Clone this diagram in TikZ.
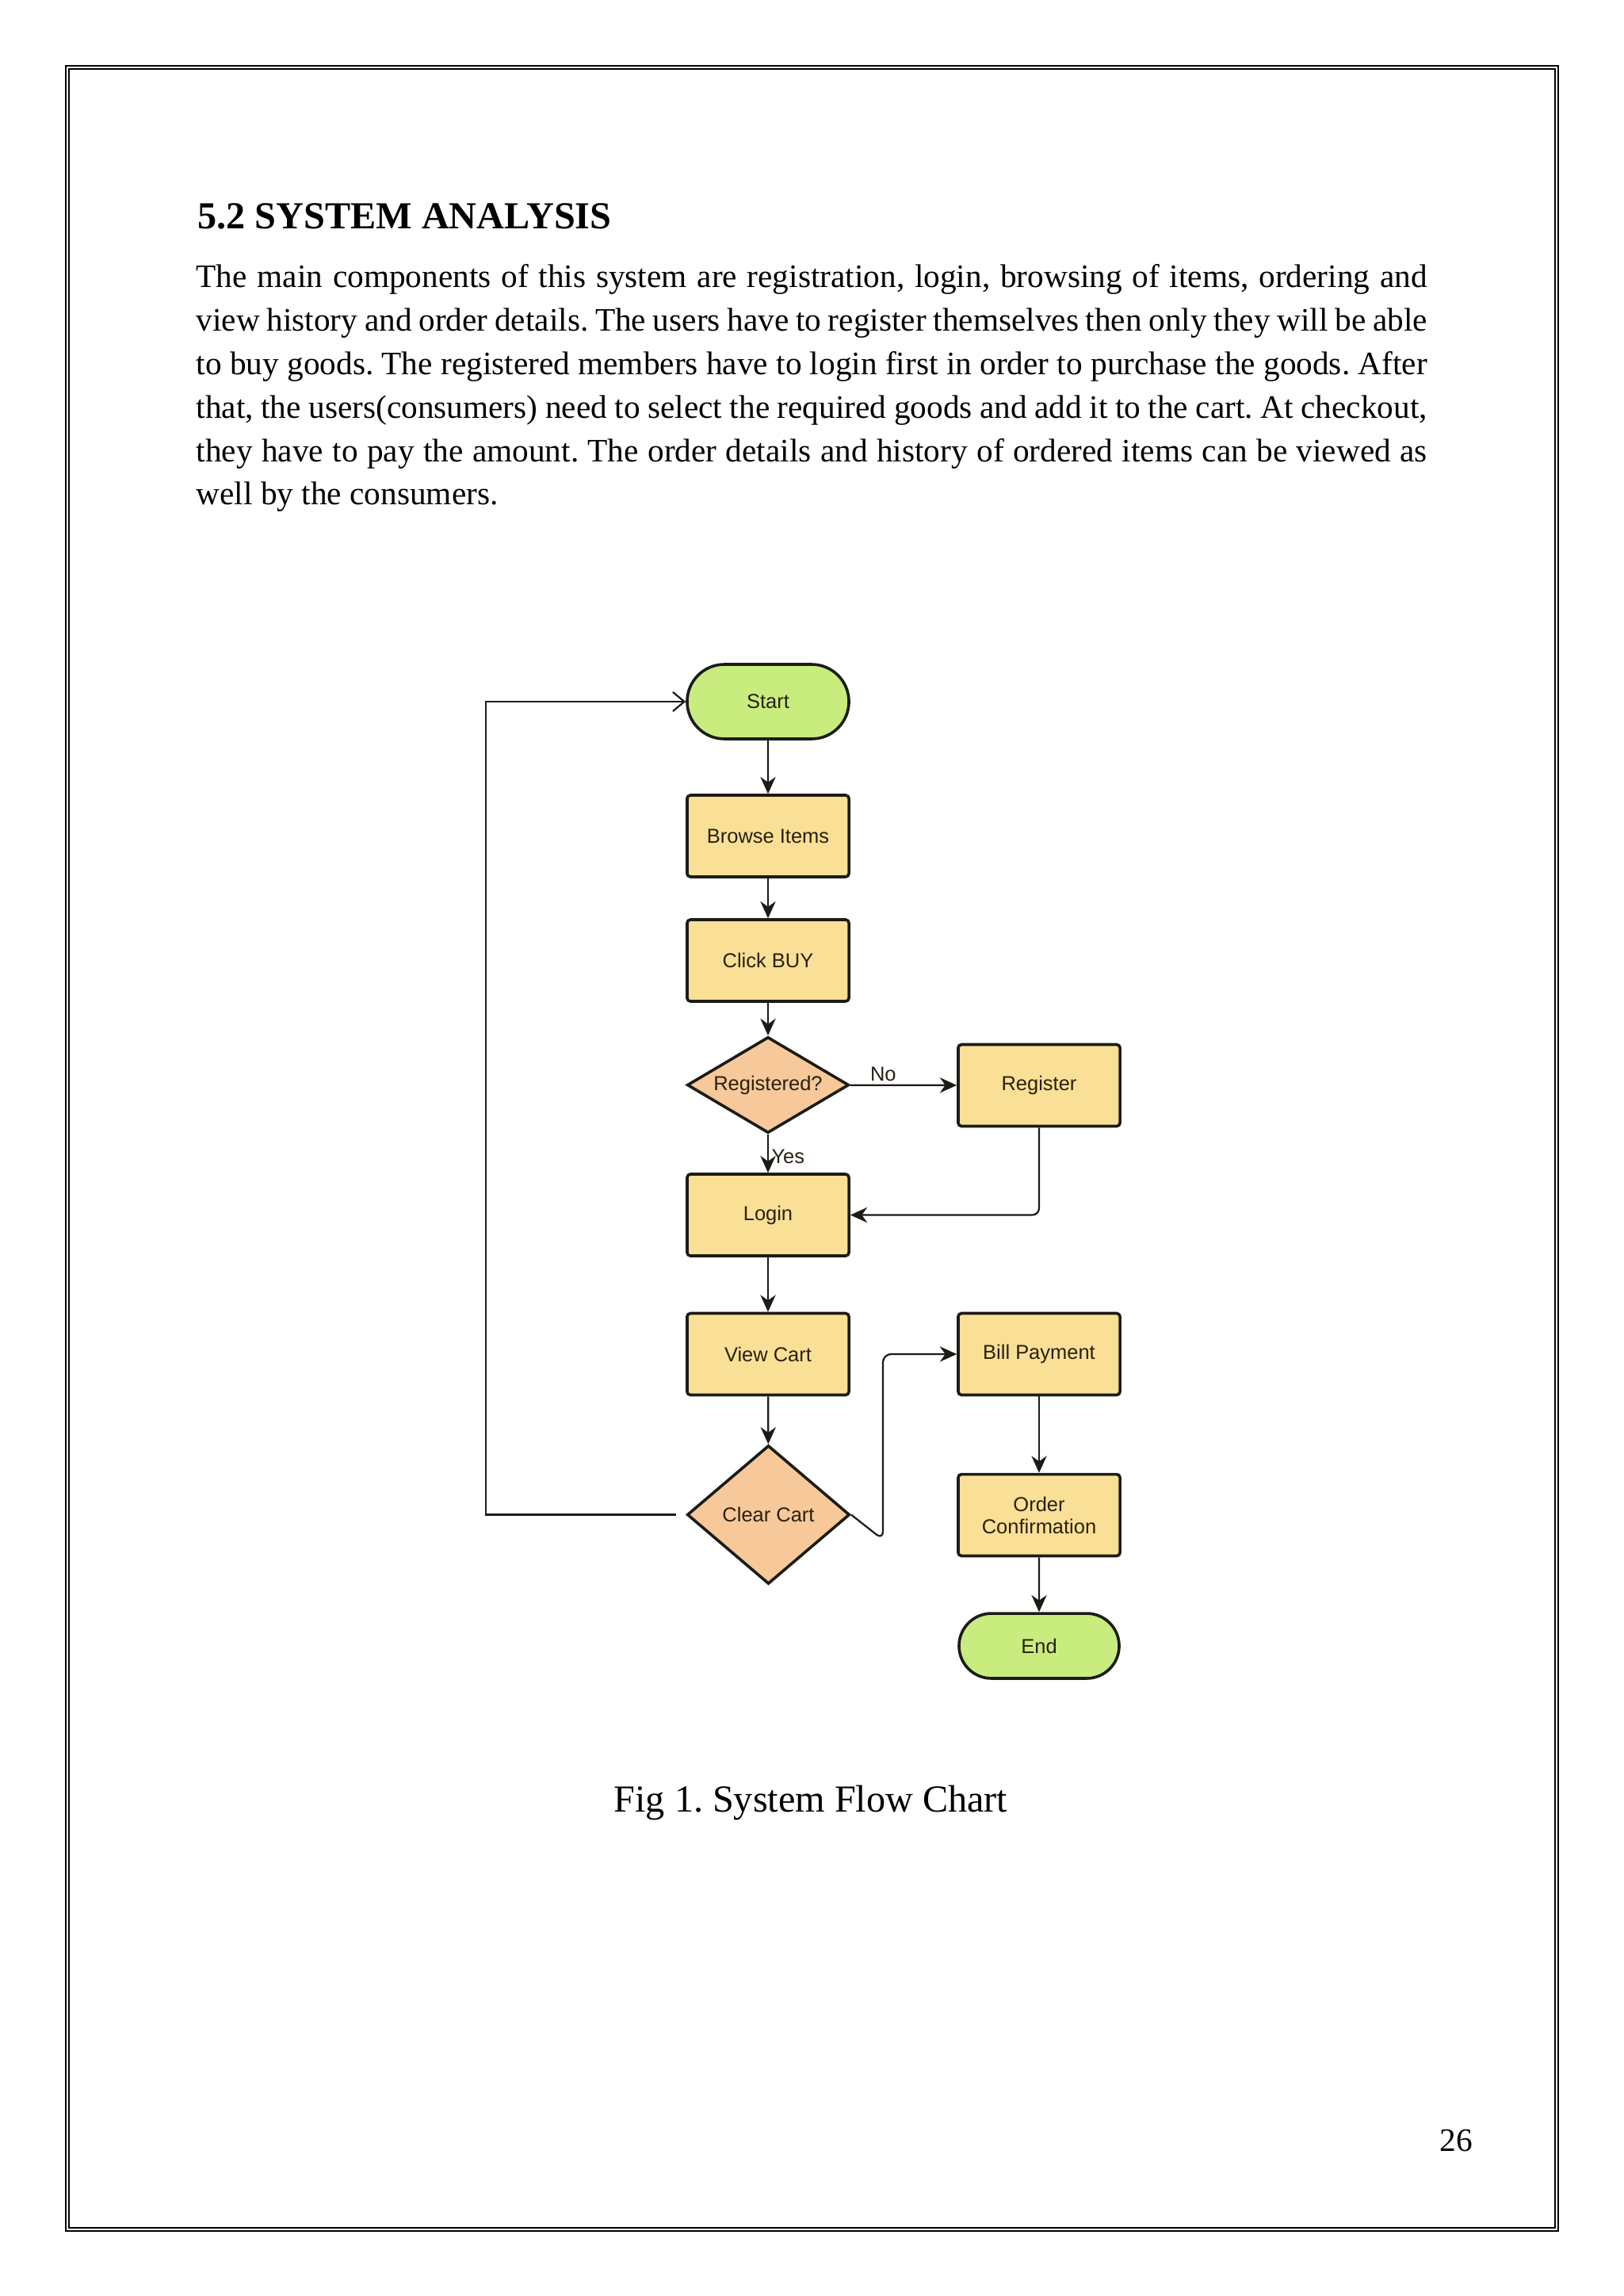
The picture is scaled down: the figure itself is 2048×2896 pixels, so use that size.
\documentclass[tikz,border=0pt]{standalone}
\usepackage{fontspec}
\setmainfont{Liberation Serif}
\setsansfont{Liberation Sans}
\usetikzlibrary{shapes.geometric,shapes.misc,arrows.meta}

\definecolor{boxfill}{RGB}{250,223,150}
\definecolor{diafill}{RGB}{247,200,153}
\definecolor{termfill}{RGB}{201,236,126}
\definecolor{edgeline}{RGB}{28,28,22}
\definecolor{chartink}{RGB}{40,33,15}

\newcommand{\chartfont}{\sffamily\fontsize{7.4pt}{8.2pt}\selectfont}
\frenchspacing

\tikzset{
  procbox/.style={rectangle, rounded corners=1.2pt, draw=edgeline, line width=1.05pt,
    fill=boxfill, text=chartink, font=\chartfont, align=center,
    minimum width=59.3pt, minimum height=29.9pt, inner sep=0pt},
  termbox/.style={rounded rectangle, draw=edgeline, line width=1.05pt,
    fill=termfill, text=chartink, font=\chartfont, minimum width=59.3pt, inner sep=0pt},
  decbox/.style={diamond, draw=edgeline, line width=1.05pt, fill=diafill,
    text=chartink, font=\chartfont, inner sep=0pt, shape aspect=1.7},
  flow/.style={draw=edgeline, line width=0.65pt, -{Stealth[length=6.2pt,width=5.6pt,inset=2pt]}},
  backflow/.style={draw=edgeline, line width=0.65pt, -{Straight Barb[length=4.2pt,width=7pt]}},
  edgelabel/.style={text=chartink, font=\chartfont, inner sep=1pt}
}

\begin{document}
\begin{tikzpicture}[x=0.29053pt, y=-0.29053pt]
  \fill[white] (0,0) rectangle (2048,2896);
  \useasboundingbox (0,0) rectangle (2048,2896);
  \draw[line width=0.6pt] (83,83) rectangle (1966,2814);
  \draw[line width=0.6pt] (87,87) rectangle (1962,2810);

  \node[anchor=base west, inner sep=0pt, font=\fontsize{14pt}{16pt}\selectfont\bfseries] (title) at (249,289) {5.2 SYSTEM ANALYSIS};
  \node[anchor=base west, inner sep=0pt, text width=451.2pt, align=justify,
    font=\fontsize{12pt}{15.92pt}\selectfont] (para) at (247,363)
    {The main components of this system are registration, login, browsing of items, ordering and\linebreak
     view history and order details. The users have to register themselves then only they will be able\linebreak
     to buy goods. The registered members have to login first in order to purchase the goods. After\linebreak
     that, the users(consumers) need to select the required goods and add it to the cart. At checkout,\linebreak
     they have to pay the amount. The order details and history of ordered items can be viewed as\linebreak
     well by the consumers.};

  \node[termbox, minimum height=27.3pt] (start) at (969,885) {Start};
  \node[procbox] (browse) at (969,1054.5) {Browse Items};
  \node[procbox] (buy) at (969,1211.5) {Click BUY};
  \node[decbox, minimum width=59.3pt, minimum height=35.2pt] (regd) at (969,1368.5) {Registered?};
  \node[procbox] (register) at (1311,1369) {Register};
  \node[procbox] (login) at (969,1532.5) {Login};
  \node[procbox] (cart) at (969,1708) {View Cart};
  \node[procbox] (bill) at (1311,1708) {Bill Payment};
  \node[decbox, shape aspect=1.1, minimum width=59.6pt, minimum height=50.8pt] (clear) at (969.5,1910.5) {Clear Cart};
  \node[procbox] (order) at (1311,1911) {Order\\Confirmation};
  \node[termbox, minimum width=58.7pt, minimum height=23.8pt] (end) at (1311,2076) {End};

  \coordinate (loopstart) at (853,1910.5);
  \coordinate (loopcorner) at (613,1910.5);
  \coordinate (kink) at (1114,1942);

  \draw[flow] (start) -- (browse);
  \draw[flow] (browse) -- (buy);
  \draw[flow] (buy) -- (regd);
  \draw[flow] (regd) -- node[edgelabel, pos=0.5, anchor=west, yshift=-1pt] (yes) {Yes} (login);
  \draw[flow] (regd) -- node[edgelabel, pos=0.31, anchor=south] (no) {No} (register);
  \draw[flow, rounded corners=2.5pt] (register) |- (login);
  \draw[flow] (login) -- (cart);
  \draw[flow] (cart) -- (clear);
  \draw[flow, rounded corners=3pt] (clear.east) -- (kink) |- (bill.west);
  \draw[flow] (bill) -- (order);
  \draw[flow] (order) -- (end);
  \draw[backflow] (loopstart) -- (loopcorner) |- (start.west);

  \node[anchor=base, inner sep=0pt, font=\fontsize{14pt}{16pt}\selectfont] (caption) at (1023,2285) {Fig 1. System Flow Chart};
  \node[anchor=base, inner sep=0pt, font=\fontsize{12pt}{14pt}\selectfont] (pageno) at (1837,2713) {26};
\end{tikzpicture}
\end{document}
